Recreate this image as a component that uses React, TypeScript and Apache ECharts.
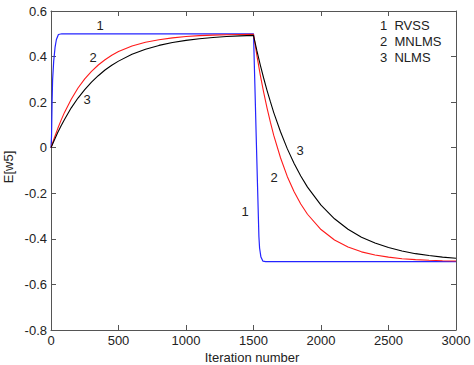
import React, { useEffect, useRef } from "react";
import * as echarts from "echarts";

const rvssIter = [0, 4, 8, 12, 20, 30, 40, 55, 80, 1500, 1510, 1520, 1530, 1540, 1545, 1555, 1570, 1590, 3000];
const rvssVal = [0, 0.05, 0.2, 0.3, 0.38, 0.44, 0.475, 0.497, 0.5, 0.5, 0.28, 0.05, -0.17, -0.39, -0.44, -0.48, -0.498, -0.5, -0.5];

const iters = [0, 25, 50, 75, 100, 150, 200, 250, 300, 350, 400, 450, 500, 600, 700, 800, 900, 1000, 1100, 1200, 1300, 1400, 1500, 1525, 1550, 1575, 1600, 1625, 1650, 1700, 1750, 1800, 1850, 1900, 2000, 2100, 2200, 2300, 2400, 2500, 2600, 2700, 2800, 2900, 3000];
const mnlmsVal = [0, 0.044, 0.084, 0.121, 0.155, 0.213, 0.262, 0.302, 0.335, 0.363, 0.386, 0.406, 0.422, 0.446, 0.463, 0.474, 0.482, 0.488, 0.492, 0.494, 0.496, 0.497, 0.498, 0.405, 0.32, 0.244, 0.175, 0.112, 0.054, -0.044, -0.126, -0.192, -0.247, -0.292, -0.359, -0.405, -0.436, -0.457, -0.471, -0.48, -0.487, -0.491, -0.494, -0.496, -0.497];
const nlmsVal = [0, 0.034, 0.067, 0.096, 0.124, 0.175, 0.218, 0.255, 0.288, 0.316, 0.341, 0.362, 0.38, 0.41, 0.432, 0.449, 0.462, 0.471, 0.478, 0.484, 0.488, 0.491, 0.493, 0.426, 0.364, 0.306, 0.252, 0.202, 0.154, 0.07, -0.004, -0.068, -0.124, -0.173, -0.252, -0.312, -0.358, -0.393, -0.418, -0.438, -0.453, -0.465, -0.473, -0.48, -0.485];

const legendLabels = ["1  RVSS", "2  MNLMS", "3  NLMS"];
const xTitle = "Iteration number";
const yTitle = "E[w5]";

const FONT = "Arial, 'Liberation Sans', sans-serif";
const AXIS = "#555";
const TXT = "#222";

export default function App() {
  const ref = useRef<HTMLDivElement>(null);
  useEffect(() => {
    if (!ref.current) return;
    const chart = echarts.init(ref.current, null, { renderer: "svg" });
    const label = { color: TXT, fontSize: 13, fontFamily: FONT };
    const tick = { show: true, inside: true, length: 5, lineStyle: { color: AXIS } };
    const line = { show: true, onZero: false, lineStyle: { color: AXIS, width: 1 } };
    const textEl = (t: string, x: number, y: number, extra: any = {}) => ({
      type: "text",
      x,
      y,
      style: { text: t, fill: TXT, font: `13px ${FONT}`, textAlign: "center", textVerticalAlign: "middle", ...extra },
    });
    chart.setOption({
      animation: false,
      backgroundColor: "#fff",
      grid: { left: 51, right: 18, top: 11, bottom: 35, containLabel: false, outerBoundsMode: "none" },
      xAxis: [
        { type: "value", min: 0, max: 3000, interval: 500, axisLine: line, axisTick: tick, splitLine: { show: false }, axisLabel: { ...label, margin: 4, formatter: (v: number) => String(v) } },
        { type: "value", position: "top", min: 0, max: 3000, interval: 500, axisLine: line, axisTick: tick, splitLine: { show: false }, axisLabel: { show: false } },
      ],
      yAxis: [
        { type: "value", min: -0.8, max: 0.6, interval: 0.2, axisLine: line, axisTick: tick, splitLine: { show: false }, axisLabel: { ...label, margin: 4, formatter: (v: number) => (Math.abs(v) < 1e-9 ? "0" : String(Number(v.toFixed(1)))) } },
        { type: "value", position: "right", min: -0.8, max: 0.6, interval: 0.2, axisLine: line, axisTick: tick, splitLine: { show: false }, axisLabel: { show: false } },
      ],
      series: [
        { name: "RVSS", type: "line", showSymbol: false, data: rvssIter.map((x, i) => [x, rvssVal[i]]), lineStyle: { color: "#2424ff", width: 1.2 } },
        { name: "MNLMS", type: "line", showSymbol: false, data: iters.map((x, i) => [x, mnlmsVal[i]]), lineStyle: { color: "#ff1a1a", width: 1.1 } },
        { name: "NLMS", type: "line", showSymbol: false, data: iters.map((x, i) => [x, nlmsVal[i]]), lineStyle: { color: "#000", width: 1.1 } },
      ],
      graphic: [
        textEl(xTitle, 252, 357),
        { ...textEl(yTitle, 8, 167), rotation: Math.PI / 2 },
        textEl("1", 100, 25),
        textEl("2", 93, 57),
        textEl("3", 87, 99),
        textEl("3", 300, 150),
        textEl("2", 274, 177),
        textEl("1", 245, 211),
        ...legendLabels.map((t, i) => textEl(t, 380, 25 + i * 16, { textAlign: "left" })),
      ],
    });
    return () => chart.dispose();
  }, []);
  return <div ref={ref} style={{ position: "fixed", left: 0, top: 0, width: 474, height: 365 }} />;
}
